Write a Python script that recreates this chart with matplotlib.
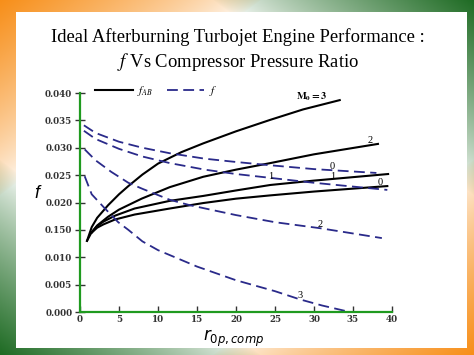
import numpy as np
import matplotlib
matplotlib.use("Agg")
import matplotlib.pyplot as plt
from matplotlib.patches import Rectangle

plt.rcParams['font.family'] = ['Liberation Serif', 'DejaVu Serif']
plt.rcParams['mathtext.fontset'] = 'stix'

# f_AB (solid) curves, one per flight Mach number
fab_m3_x = [0.9, 1.5, 2.2, 3.6, 5, 6.2, 8, 10, 13, 15.8, 20, 24.4, 28.6, 33.3]
fab_m3_y = [0.0130, 0.0155, 0.0172, 0.0195, 0.0215, 0.0230, 0.0251, 0.0271, 0.0292, 0.0308, 0.0330, 0.0351, 0.0370, 0.0387]
fab_m2_x = [0.9, 1.5, 2.2, 3.6, 5, 7.9, 11.5, 15.8, 20, 24.4, 30, 38.2]
fab_m2_y = [0.0130, 0.0146, 0.0158, 0.0174, 0.0187, 0.0207, 0.0228, 0.0247, 0.0260, 0.0272, 0.0288, 0.0307]
fab_m1_x = [1.5, 2.2, 3, 4.5, 7, 11.5, 15.8, 20, 24.4, 30, 39.5]
fab_m1_y = [0.0145, 0.0157, 0.0165, 0.0176, 0.0189, 0.0203, 0.0212, 0.0222, 0.0232, 0.0240, 0.0252]
fab_m0_x = [1.5, 2.2, 3, 4.5, 7, 11.5, 15.8, 20, 24.4, 30, 39.4]
fab_m0_y = [0.0145, 0.0154, 0.0160, 0.0169, 0.0178, 0.0189, 0.0199, 0.0207, 0.0213, 0.0220, 0.0230]

# f (dashed) curves
f_m0_x = [0.5, 2, 5, 8, 11.5, 16, 20, 24.4, 30, 38]
f_m0_y = [0.0341, 0.0327, 0.0311, 0.0300, 0.0290, 0.0280, 0.0274, 0.0268, 0.0261, 0.0254]
f_m1_x = [0.5, 2, 5, 8, 11.5, 16, 20, 24.4, 30, 39.4]
f_m1_y = [0.0331, 0.0316, 0.0298, 0.0284, 0.0272, 0.0260, 0.0252, 0.0245, 0.0236, 0.0223]
f_m2_x = [0.6, 2, 4, 6.2, 8, 11.5, 14.1, 20, 25, 30.8, 38.7]
f_m2_y = [0.0297, 0.0277, 0.0256, 0.0236, 0.0225, 0.0205, 0.0195, 0.0177, 0.0164, 0.0153, 0.0135]
f_m3_x = [0.6, 1.5, 3.2, 4.9, 6.2, 8, 10, 11.5, 15, 20, 25, 28.2, 31, 34.6]
f_m3_y = [0.0248, 0.0215, 0.0189, 0.0164, 0.0150, 0.0129, 0.0113, 0.0104, 0.0083, 0.0058, 0.0038, 0.0023, 0.0012, 0.0000]

yticks = [0.000, 0.005, 0.010, 0.015, 0.020, 0.025, 0.030, 0.035, 0.040]
ytick_labels = ["0.000", "0.005", "0.010", "0.150", "0.020", "0.025", "0.030", "0.035", "0.040"]
xticks = [0, 5, 10, 15, 20, 25, 30, 35, 40]

W, H = 474, 355
fig = plt.figure(figsize=(W / 100, H / 100), dpi=100)

# slide background: orange / green corners fading to white
bg = fig.add_axes([0, 0, 1, 1], zorder=-2)
u, v = np.meshgrid(np.linspace(0, 1, W), np.linspace(0, 1, H))
a = 0.55
wo = np.clip(1 - (u + v) / a, 0, 1) + np.clip((u + v - (2 - a)) / a, 0, 1)
wg = np.clip((u - v - (1 - a)) / a, 0, 1) + np.clip((v - u - (1 - a)) / a, 0, 1)
wo, wg = wo ** 0.7, wg ** 0.8
orange = np.array([0.97, 0.56, 0.10])
green = np.array([0.12, 0.42, 0.14])
img = (1 - wo - wg)[..., None] * 1.0 + wo[..., None] * orange + wg[..., None] * green
bg.imshow(np.clip(img, 0, 1), aspect='auto', extent=[0, 1, 0, 1])
bg.axis('off')
fig.patches.append(Rectangle((16 / W, 7 / H), 451 / W, 336 / H, transform=fig.transFigure,
                             facecolor='white', edgecolor='none', zorder=-1))

fig.text(238 / W, 1 - 37 / H, "Ideal Afterburning Turbojet Engine Performance :",
         ha='center', va='center', fontsize=13.4)
fig.text(238 / W, 1 - 62 / H, r"$f$ Vs Compressor Pressure Ratio",
         ha='center', va='center', fontsize=13.4)

ax = fig.add_axes([80 / W, 1 - 312 / H, 312 / W, 219 / H])
ax.patch.set_alpha(0)

solid = dict(color='black', lw=1.5)
dashed = dict(color='#2a2a8a', lw=1.3, ls=(0, (6, 3)))
ax.plot(fab_m3_x, fab_m3_y, label=r"$f_{AB}$", **solid)
ax.plot(fab_m2_x, fab_m2_y, **solid)
ax.plot(fab_m1_x, fab_m1_y, **solid)
ax.plot(fab_m0_x, fab_m0_y, **solid)
ax.plot(f_m0_x, f_m0_y, label=r"$f$", **dashed)
ax.plot(f_m1_x, f_m1_y, **dashed)
ax.plot(f_m2_x, f_m2_y, **dashed)
ax.plot(f_m3_x, f_m3_y, **dashed)

lab = dict(fontsize=7.5, ha='center', va='center', color='black')
ax.text(fab_m3_x[-1] - 3.6, fab_m3_y[-1] + 0.0006, r"$\mathbf{M_0 = 3}$", **lab)
ax.text(fab_m2_x[-1] - 1.0, fab_m2_y[-1] + 0.0006, "2", **lab)
ax.text(fab_m1_x[-1] - 7.1, fab_m1_y[-1] - 0.0004, "1", **lab)
ax.text(fab_m0_x[-1] - 0.9, fab_m0_y[-1] + 0.0006, "0", **lab)
ax.text(f_m0_x[-1] - 5.7, f_m0_y[-1] + 0.0011, "0", **lab)
ax.text(f_m1_x[-1] - 15.0, f_m1_y[-1] + 0.0025, "1", **lab)
ax.text(f_m2_x[-1] - 7.9, f_m2_y[-1] + 0.0024, "2", **lab)
ax.text(f_m3_x[-1] - 6.4, f_m3_y[-1] + 0.0031, "3", **lab)

ax.set_xlim(0, 40)
ax.set_ylim(0, 0.040)
ax.set_xticks(xticks)
ax.set_xticklabels([str(t) for t in xticks])
ax.set_yticks(yticks)
ax.set_yticklabels(ytick_labels)
for s in ['top', 'right']:
    ax.spines[s].set_visible(False)
for s in ['left', 'bottom']:
    ax.spines[s].set_color('#1f9a1f')
    ax.spines[s].set_linewidth(1.6)
ax.tick_params(axis='x', direction='in', length=4, width=1, pad=2, labelsize=6.3, colors='#333333')
ax.tick_params(axis='y', direction='inout', length=7, width=1, pad=2, labelsize=6.3, colors='#333333')
for t in ax.get_xticklabels() + ax.get_yticklabels():
    t.set_fontweight('bold')
    t.set_family('DejaVu Serif')

ax.legend(loc='center left', bbox_to_anchor=(0.048, 1.01), ncol=2, frameon=False,
          fontsize=8, borderpad=0, borderaxespad=0, handlelength=3.4,
          handletextpad=0.4, columnspacing=1.2)

fig.text(37 / W, 1 - 193 / H, "f", family='Liberation Sans', style='italic',
         fontsize=13, ha='center', va='center')
fig.text(234 / W, 1 - 338 / H, r"$r_{0p,comp}$", math_fontfamily='dejavusans',
         fontsize=12, ha='center', va='center')

fig.savefig("out.png", dpi=100)
